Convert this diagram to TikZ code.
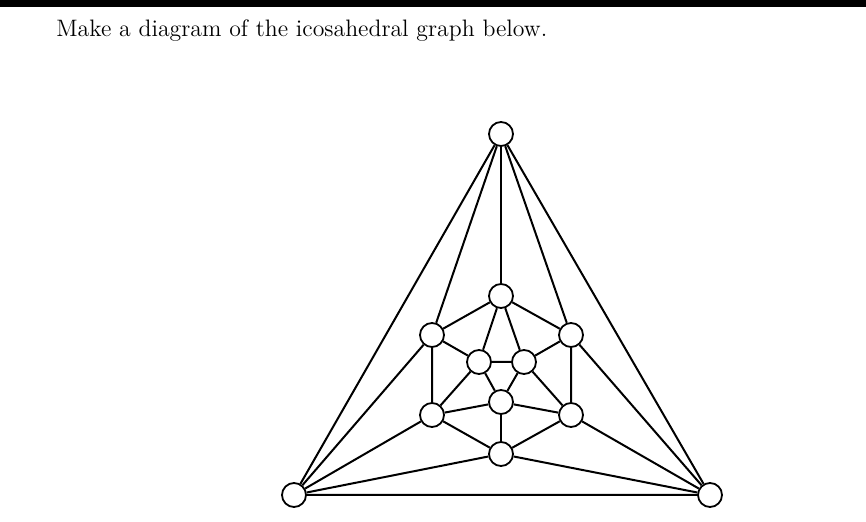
\documentclass[tikz,border=0pt]{standalone}
\usepackage{tikz}
\usetikzlibrary{positioning}

\begin{document}
\begin{tikzpicture}
 [ x=0.5pt
 , y=-0.5pt
 , vertex/.style={circle, draw, fill=white, line width=0.9pt, minimum size=12pt, inner sep=0pt}
 , edge/.style={line width=1pt}
 ]
  \useasboundingbox (0,0) rectangle (866,522);
  \fill [black] (0,0) rectangle (866,7);
  \node [anchor=base west, inner sep=0pt, font=\fontsize{11.9pt}{14pt}\selectfont] (caption) at (56,37)
    {Make a diagram of the icosahedral graph below.};

  % outer triangle
  \node [vertex] (t)  at (501,134) {};
  \node [vertex] (bl) at (294,495) {};
  \node [vertex] (br) at (710,495) {};
  % middle ring
  \node [vertex] (m)  at (501,296) {};
  \node [vertex] (lu) at (432,335) {};
  \node [vertex] (ru) at (571,335) {};
  \node [vertex] (ll) at (432,415) {};
  \node [vertex] (rl) at (571,415) {};
  \node [vertex] (bm) at (501,454) {};
  % inner triangle
  \node [vertex] (il) at (479,362) {};
  \node [vertex] (ir) at (524,362) {};
  \node [vertex] (ib) at (501,402) {};

  \draw [edge] (t) -- (bl) -- (br) -- (t);
  \draw [edge] (t) -- (lu);
  \draw [edge] (t) -- (m);
  \draw [edge] (t) -- (ru);
  \draw [edge] (bl) -- (lu);
  \draw [edge] (bl) -- (ll);
  \draw [edge] (bl) -- (bm);
  \draw [edge] (br) -- (ru);
  \draw [edge] (br) -- (rl);
  \draw [edge] (br) -- (bm);
  \draw [edge] (m) -- (lu) -- (ll) -- (bm) -- (rl) -- (ru) -- (m);
  \draw [edge] (il) -- (ir) -- (ib) -- (il);
  \draw [edge] (m) -- (il);
  \draw [edge] (m) -- (ir);
  \draw [edge] (lu) -- (il);
  \draw [edge] (ll) -- (il);
  \draw [edge] (ru) -- (ir);
  \draw [edge] (rl) -- (ir);
  \draw [edge] (ll) -- (ib);
  \draw [edge] (rl) -- (ib);
  \draw [edge] (bm) -- (ib);
\end{tikzpicture}
\end{document}
